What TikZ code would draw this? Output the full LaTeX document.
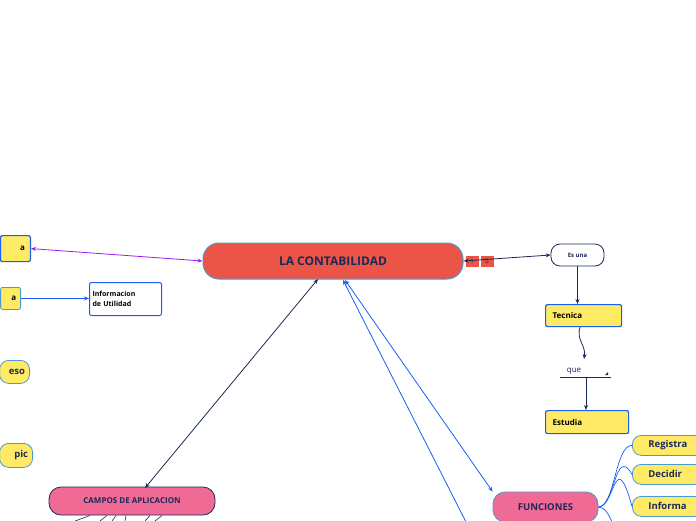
\documentclass[tikz,border=0pt]{standalone}
\usepackage{fontspec}
\setmainfont{Open Sans}
\usetikzlibrary{arrows.meta,decorations.pathmorphing}
\definecolor{navy}{HTML}{1B2A55}
\definecolor{myred}{HTML}{EA5548}
\definecolor{mypink}{HTML}{F06A96}
\definecolor{myyel}{HTML}{FFEA66}
\definecolor{bblue}{HTML}{1A5FF0}
\definecolor{lblue}{HTML}{4A9AD0}
\definecolor{purp}{HTML}{9B1AF0}
\tikzset{
  yel/.style={draw=bblue,fill=myyel,line width=1.2pt,rounded corners=2pt,font=\bfseries\fontsize{8}{9}\selectfont,text=black,anchor=north west,inner sep=0pt},
  ypill/.style={draw=lblue,fill=myyel,line width=0.8pt,rounded corners=9pt,font=\bfseries\fontsize{9.5}{10}\selectfont,text=navy,anchor=north west,inner sep=0pt},
  pinkpill/.style={draw=navy,fill=mypink,line width=0.8pt,rounded corners=12pt,font=\bfseries\fontsize{8}{9}\selectfont,text=navy,inner sep=0pt},
  arr/.style={-{Stealth[length=5pt,width=4pt]},line width=0.8pt},
  darr/.style={{Stealth[length=5pt,width=4pt]}-{Stealth[length=5pt,width=4pt]},line width=0.8pt}
}
\begin{document}
\begin{tikzpicture}[x=1pt,y=-1pt]
\useasboundingbox (0,0) rectangle (696,520);
\clip (0,0) rectangle (696,520);
% main
\node[draw=lblue,fill=myred,line width=1pt,rounded corners=16pt,minimum width=260pt,minimum height=36pt,font=\bfseries\fontsize{12}{13}\selectfont,text=navy,inner sep=0pt] (main) at (333,261) {LA CONTABILIDAD};
\node[fill=myred,minimum width=13pt,minimum height=11pt,inner sep=0pt,font=\fontsize{6}{6}\selectfont,text=navy] (b1) at (472,261) {1};
\node[fill=myred,minimum width=13pt,minimum height=11pt,inner sep=0pt,font=\fontsize{6}{6}\selectfont,text=navy] (b2) at (487,261) {ů};
% right chain
\node[draw=navy,fill=white,line width=0.8pt,rounded corners=9pt,minimum width=53pt,minimum height=22pt,font=\bfseries\fontsize{6}{7}\selectfont,text=navy,inner sep=0pt] (esuna) at (577.5,255) {Es una};
\node[yel,minimum width=76pt,minimum height=22pt,text width=70pt,align=left] (tec) at (545,304) {\hspace*{4pt}Tecnica};
\node[font=\fontsize{8}{9}\selectfont,inner sep=0pt,text=navy] (que) at (574,371) {que};
\draw[navy,line width=0.8pt] (560,377) coordinate (qL) -- (611,377) coordinate (qR);
\fill[navy] (608,372) -- (608,375) -- (605,375) -- cycle;
\coordinate (qtop) at (584,359);
\coordinate (qbot) at (586,378);
\node[yel,minimum width=83pt,minimum height=23pt,text width=77pt,align=left] (est) at (545,410) {\hspace*{4pt}Estudia};
\draw[darr,navy] (main.east) -- (esuna.west);
\draw[arr,navy] (esuna.south) -- (tec.north-|esuna.south);
\draw[arr,navy] (580,327) .. controls (576,340) and (586,345) .. (qtop);
\draw[arr,navy] (qbot) -- (qbot|-est.north);
% funciones
\node[pinkpill,draw=lblue,minimum width=105pt,minimum height=30pt,font=\bfseries\fontsize{9.5}{10}\selectfont] (fun) at (545.5,507) {FUNCIONES};
\node[ypill,minimum width=80pt,minimum height=20pt,text width=76pt,align=left] (reg) at (632,435) {\hspace*{14pt}Registra};
\node[ypill,minimum width=80pt,minimum height=20pt,text width=76pt,align=left] (dec) at (632,464) {\hspace*{14pt}Decidir};
\node[ypill,minimum width=80pt,minimum height=20pt,text width=76pt,align=left] (inf) at (632,496) {\hspace*{14pt}Informa};
\foreach \t in {reg,dec,inf}{\draw[bblue,line width=0.7pt] (fun.east) .. controls (615,507) and (615,445) .. (\t.west);}
\draw[bblue,line width=0.7pt] (fun.east) .. controls (612,507) and (615,540) .. (630,560);
\draw[darr,bblue] (345,280) -- (fun.north west);
\coordinate (off) at (466,522);
\draw[arr,bblue] (off) -- (343,280);
% left
\node[yel,minimum width=30pt,minimum height=26pt,anchor=north east,text width=27pt,align=right] (l1) at (31,235) {a\hspace*{4pt}};
\node[yel,draw=lblue,line width=0.8pt,minimum width=20pt,minimum height=22pt,anchor=north east,text width=17pt,align=right] (l2) at (21,287) {a\hspace*{3pt}};
\node[draw=bblue,fill=white,line width=1pt,rounded corners=2pt,minimum width=72pt,minimum height=33pt,text width=66pt,align=left,font=\bfseries\fontsize{7}{10}\selectfont,inner sep=0pt,anchor=north west] (iu) at (89,282) {Informacion\\de Utilidad};
\node[ypill,minimum width=30pt,minimum height=23pt,anchor=north east,text width=27pt,align=right] (l3) at (30,360) {eso\hspace*{3pt}};
\node[ypill,minimum width=33pt,minimum height=24pt,anchor=north east,text width=30pt,align=right] (l4) at (33,443) {pic\hspace*{3pt}};
\draw[darr,purp] (l1.east) -- (main.west);
\draw[arr,bblue,line width=0.7pt] (l2.east) -- (iu.west|-l2.east);
% campos
\node[pinkpill,minimum width=166pt,minimum height=28pt] (cam) at (132,501) {CAMPOS DE APLICACION};
\draw[darr,navy] (318,279) -- (145,488);
\foreach \a/\b in {75/90,100/107,112/116,125/126,145/150,155/162}{\draw[navy,line width=0.6pt] (\b,515.5) -- (\a,521);}
\end{tikzpicture}
\end{document}
